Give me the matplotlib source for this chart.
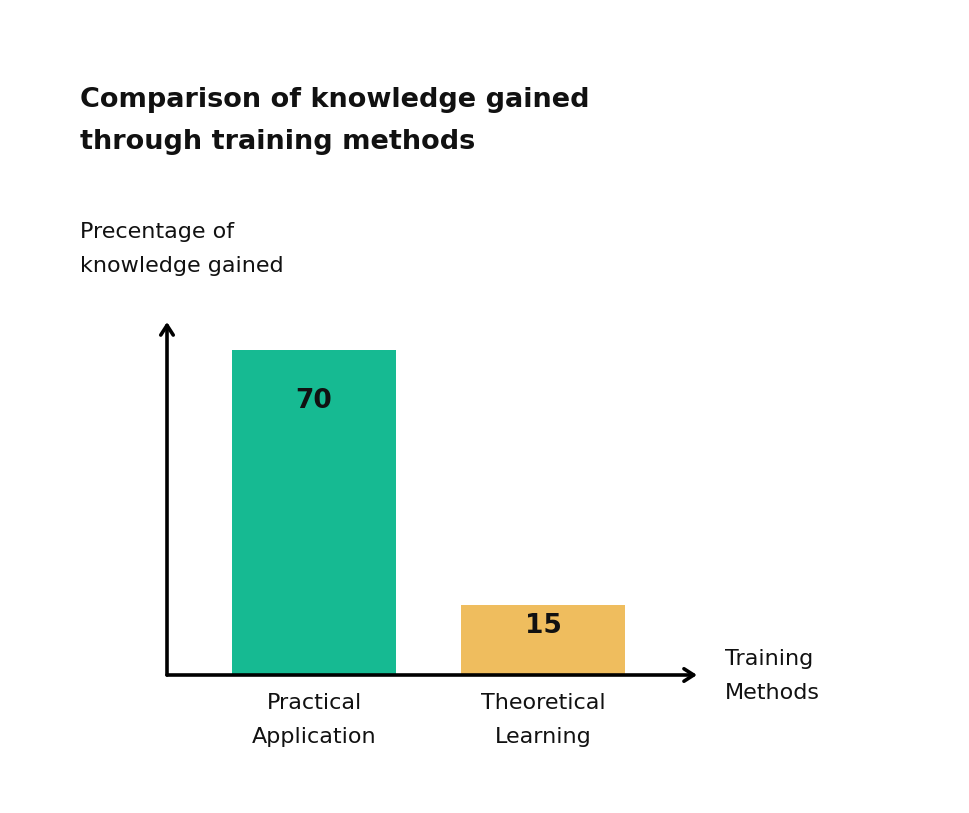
import matplotlib
matplotlib.use("Agg")
import matplotlib.pyplot as plt

# chart data
methods = ["Practical\nApplication", "Theoretical\nLearning"]
knowledge_pct = [70, 15]
bar_colors = ["#16BA92", "#EFBD5E"]

TITLE = "Comparison of knowledge gained\nthrough training methods"
YLABEL = "Precentage of\nknowledge gained"
XLABEL = "Training\nMethods"

W, H = 969, 813
plt.rcParams["font.family"] = ["DejaVu Sans"]

fig = plt.figure(figsize=(W / 100, H / 100), dpi=100)
fig.patch.set_facecolor("white")

# axes box in pixels: origin (167, 675), arrow tips at x=697 and y=322
x0, y0, x1, y1 = 167, 675, 697, 322
ax = fig.add_axes([x0 / W, (H - y0) / H, (x1 - x0) / W, (y0 - y1) / H])
ax.set_xlim(-0.642, -0.642 + (x1 - x0) / 229)
ax.set_ylim(0, 76.0)
for s in ax.spines.values():
    s.set_visible(False)
ax.set_xticks([])
ax.set_yticks([])
ax.patch.set_alpha(0)

xs = list(range(len(methods)))
ax.bar(xs, knowledge_pct, width=0.716, color=bar_colors, zorder=2)

for x, v in zip(xs, knowledge_pct):
    ax.text(x, v - min(11, v * 0.3), str(v), ha="center", va="center",
            fontsize=19, fontweight="bold", color="#111111", zorder=3)
    ax.text(x, -3.8, methods[x], ha="center", va="top", fontsize=16,
            color="#111111", linespacing=1.9)

# arrowed axes
arrow = dict(arrowstyle="->,head_length=0.7,head_width=0.45", lw=2.6,
             color="black", shrinkA=0, shrinkB=0)
ax.annotate("", xy=(0, 1), xytext=(0, 0), xycoords="axes fraction",
            arrowprops=arrow, annotation_clip=False)
ax.annotate("", xy=(1, 0), xytext=(0, 0), xycoords="axes fraction",
            arrowprops=arrow, annotation_clip=False)

fig.text(80 / W, 1 - 87 / H, TITLE, ha="left", va="top", fontsize=19.5,
         fontweight="bold", color="#111111", linespacing=1.8)
fig.text(80 / W, 1 - 222 / H, YLABEL, ha="left", va="top", fontsize=16,
         color="#111111", linespacing=1.9)
fig.text(725 / W, 1 - 649 / H, XLABEL, ha="left", va="top", fontsize=16,
         color="#111111", linespacing=1.9)

fig.savefig("out.png", dpi=100, facecolor="white")
